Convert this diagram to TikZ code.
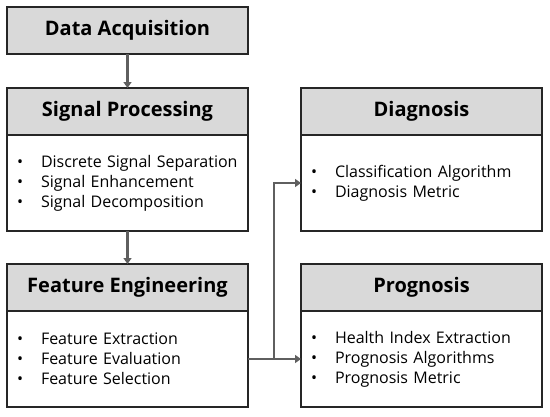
\documentclass[tikz,border=0pt]{standalone}
\usepackage{fontspec}
\setmainfont{Open Sans}
\usepackage{xcolor}
\usetikzlibrary{positioning, arrows.meta}

\definecolor{headgray}{HTML}{D9D9D9}
\definecolor{linegray}{HTML}{262626}
\definecolor{arrowgray}{HTML}{5F5F5F}
\newcommand{\itm}[1]{\makebox[24pt][l]{\textbullet}#1}

\begin{document}
\begin{tikzpicture}[node distance={34pt}]
	\tikzstyle{head} = [draw=linegray, line width=1.2pt, fill=headgray, rectangle, outer sep=0pt, minimum width=241pt, minimum height=47pt, font=\fontsize{20}{24}\selectfont\bfseries]
	\tikzstyle{body} = [draw=linegray, line width=1.2pt, fill=white, rectangle, outer sep=0pt, text width=221pt, inner xsep=10pt, minimum height=96pt, align=left, font=\fontsize{16}{20}\selectfont]
	\tikzstyle{arr} = [draw=arrowgray, line width=2.6pt, -{Triangle[length=6pt, width=8pt]}]
	\useasboundingbox (0pt,0pt) rectangle (550pt,-416pt);
	\node[head, anchor=north west] (da) at (7pt,-7pt) {Data Acquisition};
	\node[head] (sp) [below=of da] {Signal Processing};
	\node[body] (spbody) [below=0pt of sp] {\itm{Discrete Signal Separation}\\ \itm{Signal Enhancement}\\ \itm{Signal Decomposition}};
	\node[head] (fe) [below=33pt of spbody] {Feature Engineering};
	\node[body] (febody) [below=0pt of fe] {\itm{Feature Extraction}\\ \itm{Feature Evaluation}\\ \itm{Feature Selection}};
	\node[head] (dg) [right=53pt of sp] {Diagnosis};
	\node[body] (dgbody) [below=0pt of dg] {\itm{Classification Algorithm}\\ \itm{Diagnosis Metric}};
	\node[head] (pg) [right=53pt of fe] {Prognosis};
	\node[body] (pgbody) [below=0pt of pg] {\itm{Health Index Extraction}\\ \itm{Prognosis Algorithms}\\ \itm{Prognosis Metric}};
	\coordinate[right=26pt of febody.east] (jn);
	\draw[arr] (da) -- (sp);
	\draw[arr] (spbody) -- (fe);
	\draw[arr] (febody.east) -- (jn) |- (dgbody.west);
	\draw[arr] (jn) -- (pgbody.west);
\end{tikzpicture}
\end{document}
